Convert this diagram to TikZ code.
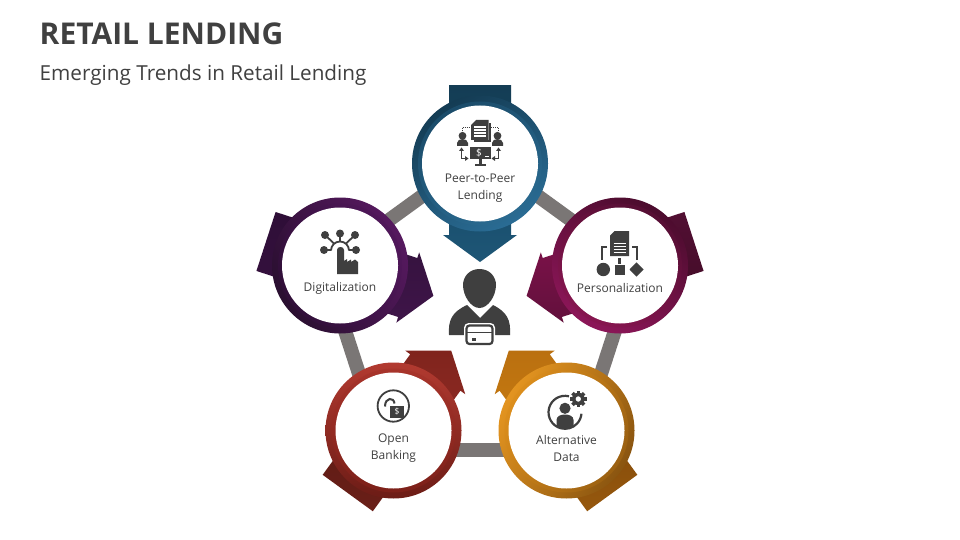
\documentclass[tikz,border=0pt]{standalone}
\usepackage{fontspec}
\setmainfont{Open Sans}
\definecolor{ink}{HTML}{404040}
\definecolor{iconc}{HTML}{3F3F3F}
\definecolor{linkc}{HTML}{7A7675}
\tikzset{
  label text/.style={inner sep=0pt,text=ink,font=\fontsize{12}{17}\selectfont,align=center},
  title text/.style={inner sep=0pt,anchor=west,text=ink},
  link/.style={draw=linkc,line width=14pt},
  wl/.style={draw=white,line width=1.2pt},
  ringnode/.style={circle,inner sep=0pt,minimum size=#1,draw=none},
}
% angle, back c1, back c2, head c1, head c2
\newcommand{\petal}[5]{%
  \definecolor{pa}{HTML}{#2}\definecolor{pb}{HTML}{#3}\definecolor{pc}{HTML}{#4}\definecolor{pd}{HTML}{#5}%
  \begin{scope}[rotate around={#1:(480,311)}]
    \path[top color=pa,bottom color=pb] (449,86) -- (511,86) -- (511,170) -- (449,170) -- cycle;
    \path[top color=pc,bottom color=pd] (449,170) -- (511,170) -- (511,235) -- (517,235) -- (480,262) -- (443,235) -- (449,235) -- cycle;
  \end{scope}}
% name, x, y, c1, c2, angle, rim c1, rim c2
\newcommand{\ringn}[8]{%
  \definecolor{ra}{HTML}{#4}\definecolor{rb}{HTML}{#5}\definecolor{rc}{HTML}{#7}\definecolor{rd}{HTML}{#8}%
  \node[ringnode=136pt,top color=ra,bottom color=rb,shading angle=#6] (#1) at (#2,#3) {};
  \path[top color=rc,bottom color=rd,shading angle=#6] (#2,#3) circle[radius=62];
  \path[fill=white] (#2,#3) circle[radius=58];}
\begin{document}
\begin{tikzpicture}[x=1pt,y=-1pt]
\useasboundingbox (0,0) rectangle (960,540);
\fill[white] (0,0) rectangle (960,540);
\node[title text,font=\fontsize{30}{36}\selectfont\bfseries] (title) at (39.5,34) {RETAIL LENDING};
\node[title text,font=\fontsize{20.7}{26}\selectfont] (subtitle) at (39.5,75) {Emerging Trends in Retail Lending};
% connectors run beneath the rings
\coordinate (vA) at (480,154);
\coordinate (vB) at (324.3,267);
\coordinate (vC) at (383.8,450);
\coordinate (vD) at (576.2,450);
\coordinate (vE) at (635.7,267);
\draw[link] (vA) -- (vB);
\draw[link] (vB) -- (vC);
\draw[link] (vC) -- (vD);
\draw[link] (vD) -- (vE);
\draw[link] (vE) -- (vA);
% arrows
\petal{0}{143D55}{16435E}{164A68}{1E5676}
\petal{72}{2E0E37}{36113F}{34123D}{3F1549}
\petal{-72}{520F33}{430C28}{7E124A}{62103C}
\petal{144}{5A1A14}{6A1F18}{80241D}{922C25}
\petal{-144}{7E4708}{96580E}{BA7010}{C87C10}
% rings
\ringn{peer}{480}{163.5}{143C54}{2A6C94}{30}{1B4C6A}{2A6A90}
\ringn{digi}{340}{265.5}{2A0F30}{56195F}{120}{300F38}{50175A}
\ringn{pers}{620}{265.5}{4C0C2E}{8C1658}{-30}{560E34}{86154F}
\ringn{open}{393.5}{430.5}{B23A30}{6C1C16}{0}{A8342B}{7C2019}
\ringn{altd}{566.5}{430.5}{E39420}{8A5510}{60}{DC8E1C}{9A6012}
% labels
\node[label text] (t1) at (480,188) {Peer-to-Peer\\Lending};
\node[label text] (t2) at (340,288.5) {Digitalization};
\node[label text] (t3) at (620,288) {Personalization};
\node[label text] (t4) at (393.5,448) {Open\\Banking};
\node[label text] (t5) at (566.5,448.5) {Alternative\\Data};
% central person
\fill[iconc] (479.5,269) .. controls (490,269) and (496,277) .. (496,285) .. controls (496,296) and (488,308) .. (479.5,308) .. controls (471,308) and (463,296) .. (463,285) .. controls (463,277) and (469,269) .. (479.5,269) -- cycle;
\fill[iconc] (449,335) .. controls (448,320) and (452,312) .. (467,305) -- (480,318) -- (493,305) .. controls (507,312) and (511,320) .. (510,335) -- cycle;
\filldraw[fill=white,draw=white,line width=4pt,rounded corners=3pt] (466,325) rectangle (493,345);
\draw[iconc,fill=white,line width=2.2pt,rounded corners=3pt] (466.5,325.5) rectangle (492.5,344);
\draw[iconc,line width=1.6pt] (466.5,332.5) -- (492.5,332.5);
\fill[iconc] (472,337.5) rectangle (475.5,341);
% peer icon
\fill[iconc] (474,123) rectangle (491,142);
\fill[white] (472.5,121) rectangle (489,140.5);
\fill[iconc] (476,120) -- (488.5,120) -- (488.5,140) -- (471,140) -- (471,125) -- cycle;
\foreach \yy in {127,130,133,136} {\draw[wl] (474,\yy) -- (486,\yy);}
\fill[iconc] (462.5,135.8) circle[radius=3.9];
\fill[iconc] (457,146) -- (457,143) .. controls (457,140.5) and (460,139) .. (462.5,139) .. controls (465,139) and (468,140.5) .. (468,143) -- (468,146) -- cycle;
\fill[iconc] (497.5,135.8) circle[radius=3.9];
\fill[iconc] (492,146) -- (492,143) .. controls (492,140.5) and (495,139) .. (497.5,139) .. controls (500,139) and (503,140.5) .. (503,143) -- (503,146) -- cycle;
\fill[iconc] (470,147) rectangle (491,159.5);
\fill[iconc] (479,159.5) rectangle (482,164);
\fill[iconc] (475,164) rectangle (486,166);
\node[inner sep=0pt,text=white,font=\fontsize{10}{10}\selectfont] (dollarA) at (479,153) {\$};
\draw[white,line width=1pt] (485,156.5) -- (489,156.5);
\draw[iconc,line width=1pt,densely dotted] (462,131) -- (462,127.5) -- (470,127.5);
\draw[iconc,line width=1pt,densely dotted] (498,131) -- (498,127.5) -- (491,127.5);
\draw[iconc,line width=1.4pt] (461.5,150) -- (461.5,158.5) -- (466,158.5);
\fill[iconc] (461.5,147.5) -- (459,151) -- (464,151) -- cycle;
\fill[iconc] (468.5,158.5) -- (465,156) -- (465,161) -- cycle;
\draw[iconc,line width=1.4pt] (498.5,150) -- (498.5,158.5) -- (494,158.5);
\fill[iconc] (498.5,147.5) -- (496,151) -- (501,151) -- cycle;
\fill[iconc] (491.5,158.5) -- (495,156) -- (495,161) -- cycle;
% digitalization icon
\foreach \px/\py/\qx/\qy in {325/235/334/243.5, 340/233.5/340/241, 355/235/346/243.5, 324/250/331/250, 356/250/349/250}{
  \fill[iconc] (\px,\py) circle[radius=4];
  \draw[iconc,line width=1.8pt] (\px,\py) -- (\qx,\qy);
}
\draw[iconc,line width=1.8pt] (331,250.5) arc[start angle=180,end angle=360,radius=9];
\fill[iconc] (337,274) -- (337,250) .. controls (337,246) and (344,246) .. (344,250) -- (344,261) -- (347,259) -- (347,262) -- (351,259.5) -- (351,262) -- (355,259.5) -- (358,262) -- (358,274) -- cycle;
% personalization icon
\fill[iconc] (614.5,231) -- (629,231) -- (629,256) -- (610,256) -- (610,236) -- cycle;
\fill[white] (609,230) -- (613.5,230) -- (613.5,234.5) -- (609,234.5) -- cycle;
\fill[iconc] (610,235.5) -- (614,231.5) -- (614,235.5) -- cycle;
\foreach \yy in {243.5,246.5,249.5,252.5} {\draw[white,line width=1.3pt] (613.5,\yy) -- (625.5,\yy);}
\draw[iconc,line width=2.2pt] (607,247) -- (602,247) -- (602,260);
\draw[iconc,line width=2.2pt] (632,247) -- (637,247) -- (637,260);
\draw[iconc,line width=2.2pt] (619.5,258) -- (619.5,264);
\fill[iconc] (603.3,269.5) circle[radius=6.7];
\fill[iconc] (614.5,264.5) rectangle (625,275);
\fill[iconc] (636.5,262.3) -- (643.5,269.5) -- (636.5,276.7) -- (629.5,269.5) -- cycle;
% open banking icon
\draw[iconc,line width=1.8pt] (393.3,406) circle[radius=15.7];
\draw[iconc,line width=2pt] (385,406.5) .. controls (385,397) and (394,397) .. (394.5,403.5);
\fill[iconc] (390,405.5) rectangle (404,417.5);
\node[inner sep=0pt,text=white,font=\fontsize{8.5}{9}\selectfont] (dollarB) at (397,411.5) {\$};
% alternative data icon
\draw[iconc,line width=2.2pt] (569,396.3) arc[start angle=-76,end angle=-355,radius=16.5];
\fill[iconc] (565,408.3) circle[radius=5.6];
\fill[iconc] (556.5,426) -- (556.5,420) .. controls (556.5,416) and (561,414.5) .. (565,414.5) .. controls (569,414.5) and (573.5,416) .. (573.5,420) -- (573.5,426) .. controls (568,429) and (562,429) .. (556.5,426) -- cycle;
\foreach \aa in {0,45,...,315}{
  \fill[iconc,rotate around={\aa:(578.3,399)}] (576.5,390.8) rectangle (580.1,395);
}
\fill[iconc,even odd rule] (578.3,399) circle[radius=6.3] (578.3,399) circle[radius=2.8];
\end{tikzpicture}
\end{document}
